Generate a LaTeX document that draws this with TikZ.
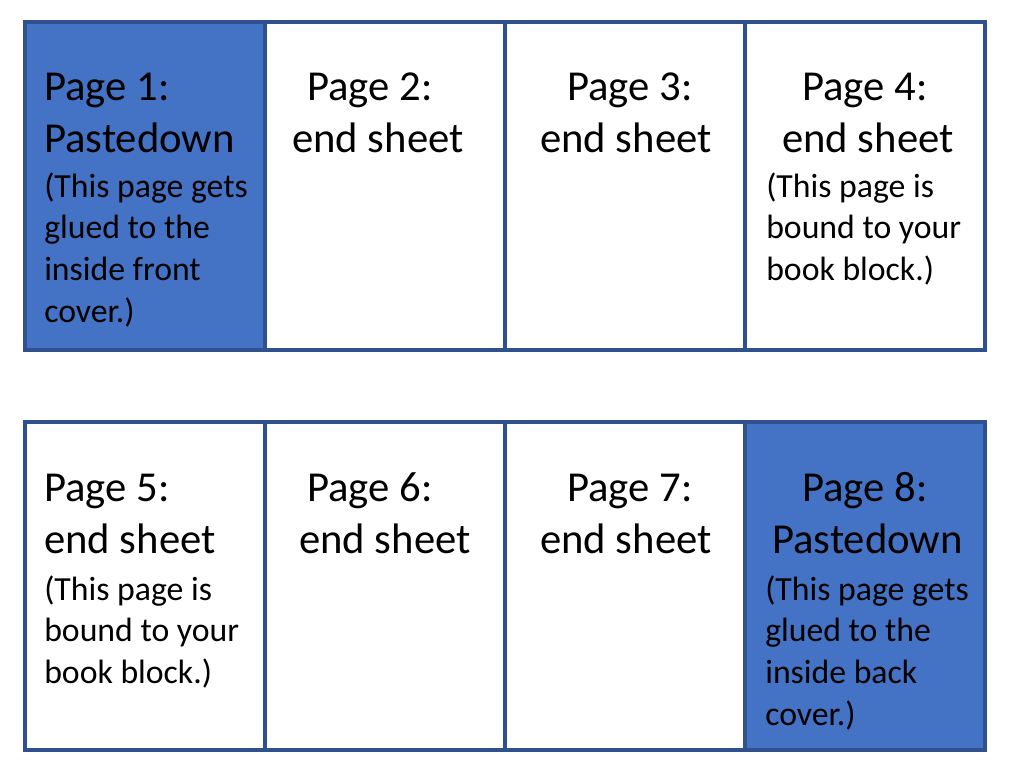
\documentclass[tikz,border=0pt]{standalone}
\usepackage{fontspec}
\setmainfont{Carlito}
\definecolor{pageblue}{HTML}{4472C4}
\definecolor{pageedge}{HTML}{2F528F}

\begin{document}
\begin{tikzpicture}[x=0.75pt, y=-0.75pt,
    pagebox/.style={rectangle, draw=pageedge, line width=2.8pt, minimum width=180pt, minimum height=246pt, outer sep=0pt, inner sep=0pt},
    titletext/.style={anchor=base west, inner sep=0pt, font=\fontsize{32}{39}\selectfont},
    notetext/.style={anchor=base west, inner sep=0pt, font=\fontsize{25.3}{31.1}\selectfont}]
    \useasboundingbox (0,0) rectangle (1024,783);
    \def\lineskip{52} % gap between the two title lines
    \def\noteskip{41.7} % gap between note lines

    % Page boxes: number/left/top/fill
    \foreach \n/\x/\y/\f in {1/25/22/pageblue, 2/265/22/white, 3/505/22/white, 4/745/22/white,
                              5/25/422/white, 6/265/422/white, 7/505/422/white, 8/745/422/pageblue} {
        \node[pagebox, fill=\f, anchor=north west] (page-\n) at (\x, \y) {};
    }

    % Titles: number/first line x/second line x/baseline/second line
    \foreach \n/\xa/\xb/\y/\t in {1/44/44/100/Pastedown, 2/307/292/100/end sheet, 3/567/540/100/end sheet, 4/802/782/100/end sheet,
                                   5/44/44/501/end sheet, 6/307/299/501/end sheet, 7/567/540/501/end sheet, 8/802/772/501/Pastedown} {
        \node[titletext] (title-\n-a) at (\xa, \y) {Page \n:};
        \node[titletext] (title-\n-b) at (\xb, \y+\lineskip) {\t};
    }

    % Notes under the titles, one node per line
    \foreach \l [count=\i] in {{(This page gets}, {glued to the}, {inside front}, {cover.)}}
        \node[notetext] (note-1-\i) at (44, 197+\i*\noteskip-\noteskip) {\l};
    \foreach \l [count=\i] in {{(This page is}, {bound to your}, {book block.)}}
        \node[notetext] (note-4-\i) at (766, 197+\i*\noteskip-\noteskip) {\l};
    \foreach \l [count=\i] in {{(This page is}, {bound to your}, {book block.)}}
        \node[notetext] (note-5-\i) at (44, 600+\i*\noteskip-\noteskip) {\l};
    \foreach \l [count=\i] in {{(This page gets}, {glued to the}, {inside back}, {cover.)}}
        \node[notetext] (note-8-\i) at (765, 600+\i*\noteskip-\noteskip) {\l};
\end{tikzpicture}
\end{document}
